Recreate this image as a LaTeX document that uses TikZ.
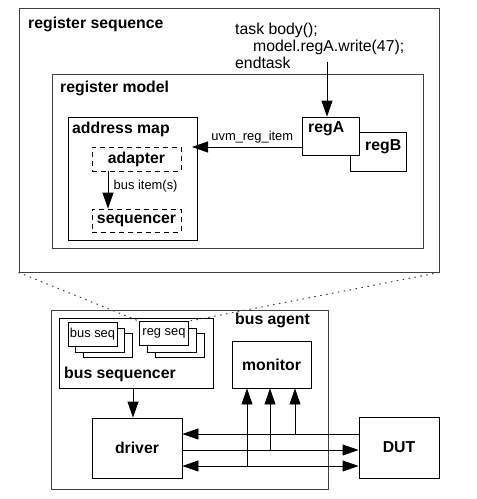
\documentclass[tikz,border=0pt]{standalone}
\usepackage{fontspec}
\setmainfont{Liberation Sans}
\usepackage{tikz}
\usetikzlibrary{arrows.meta}
\usetikzlibrary{positioning}

\begin{document}
\begin{tikzpicture}[
x=1pt, y=-1pt,
BigBox/.style={draw=black!75,line width=0.9pt,inner sep=0pt},
MyBox/.style={draw=black,line width=0.8pt,fill=white,inner sep=0pt},
DashBox/.style={draw=black,line width=0.8pt,dash pattern=on 5pt off 4pt,inner sep=0pt},
StackBox/.style={draw=black,line width=0.7pt,fill=white,inner sep=0pt,minimum width=49pt,minimum height=24pt},
Title/.style={font=\fontsize{15.8}{18}\selectfont\bfseries,inner sep=0pt},
Code/.style={font=\fontsize{15.8}{18}\selectfont,inner sep=0pt},
Small/.style={font=\fontsize{12.9}{15}\selectfont},
Flow/.style={line width=0.8pt,-{Triangle[length=16pt,width=11pt]}},
Zoomed/.style={draw=black!75,line width=1pt,dash pattern=on 1.5pt off 4.5pt}
]
\useasboundingbox (0,0) rectangle (477,499);

% register sequence (top half)
\node[BigBox,minimum width=420pt,minimum height=264pt] (regseq) at (229,140) {};
\node[Title,anchor=base west] (regseqlabel) at (28,28) {register sequence};
\node[Code,anchor=base west] (taskline) at (235,34) {task body();};
\node[Code,anchor=base west] (writeline) at (253,51) {model.regA.write(47);};
\node[Code,anchor=base west] (endline) at (235,68) {endtask};

\node[BigBox,minimum width=371pt,minimum height=174pt] (regmodel) at (237.5,161) {};
\node[Title,anchor=base west] (regmodellabel) at (60,92) {register model};

\node[MyBox,minimum width=129pt,minimum height=123pt] (addrmap) at (132.5,178.5) {};
\node[Title,anchor=base west] (addrmaplabel) at (72,133) {address map};
\node[DashBox,Title,minimum width=89pt,minimum height=24pt] (adapter) at (136.5,159) {adapter};
\node[DashBox,Title,minimum width=89pt,minimum height=23pt] (sequencer) at (136.5,220.5) {sequencer};

\node[MyBox,minimum width=56pt,minimum height=39pt] (regB) at (378,151.5) {};
\node[Title,anchor=base west] (regBlabel) at (365,150) {regB};
\node[MyBox,minimum width=57pt,minimum height=38pt] (regA) at (330.5,136) {};
\node[Title,anchor=base west] (regAlabel) at (308,132) {regA};

\coordinate (bodyend) at (327,62);
\coordinate (itemtip) at (192,147);
\draw[Flow] (bodyend) -- (bodyend |- regA.north);
\draw[Flow] (itemtip -| regA.west) -- (itemtip) node[pos=0.45,above,Small] {uvm\_reg\_item};
\draw[Flow] ([xshift=-28.5pt]adapter.south) -- ([xshift=-28.5pt]sequencer.north)
  node[midway,right,Small,yshift=4pt,xshift=2pt] {bus item(s)};

% bus agent (bottom half)
\node[BigBox,minimum width=277pt,minimum height=179pt] (busagent) at (189.5,399.5) {};
\node[Title,anchor=base west] (busagentlabel) at (235,324) {bus agent};

\node[MyBox,minimum width=154pt,minimum height=70pt] (busseqr) at (136,353) {};
\node[Title,anchor=base west] (busseqrlabel) at (64,378) {bus sequencer};

\node[StackBox] (busseqC) at (107.5,345) {};
\node[StackBox] (busseqB) at (99.5,340) {};
\node[StackBox,Small] (busseq) at (92.5,334) {bus seq};
\node[StackBox] (regseqC) at (179.5,345) {};
\node[StackBox] (regseqB) at (172,340) {};
\node[StackBox,Small] (regseqA) at (164,333.5) {reg seq};

\node[MyBox,Title,minimum width=79pt,minimum height=47pt] (monitor) at (271.5,364.5) {monitor};
\node[MyBox,Title,minimum width=90pt,minimum height=60pt] (driver) at (137,448) {driver};
\node[MyBox,Title,minimum width=80pt,minimum height=61pt] (DUT) at (399,447.5) {DUT};

\draw[Flow] ([xshift=-4pt]driver.north |- busseqr.south) -- ([xshift=-4pt]driver.north);

\coordinate (tapA) at (295,434);
\coordinate (tapB) at (270,450);
\coordinate (tapC) at (247,466);
\draw[Flow] (DUT.west |- tapA) -- (driver.east |- tapA);
\draw[Flow] (driver.east |- tapB) -- (DUT.west |- tapB);
\draw[Flow,{Triangle[length=16pt,width=11pt]}-{Triangle[length=16pt,width=11pt]}] (driver.east |- tapC) -- (DUT.west |- tapC);
\draw[Flow] (tapA) -- (tapA |- monitor.south);
\draw[Flow] (tapB) -- (tapB |- monitor.south);
\draw[Flow] (tapC) -- (tapC |- monitor.south);

% zoom lines from the reg seq to the register sequence
\draw[Zoomed] (regseq.south west) -- (regseqA.north west);
\draw[Zoomed] (regseq.south east) -- (regseqA.north east);

\end{tikzpicture}
\end{document}
